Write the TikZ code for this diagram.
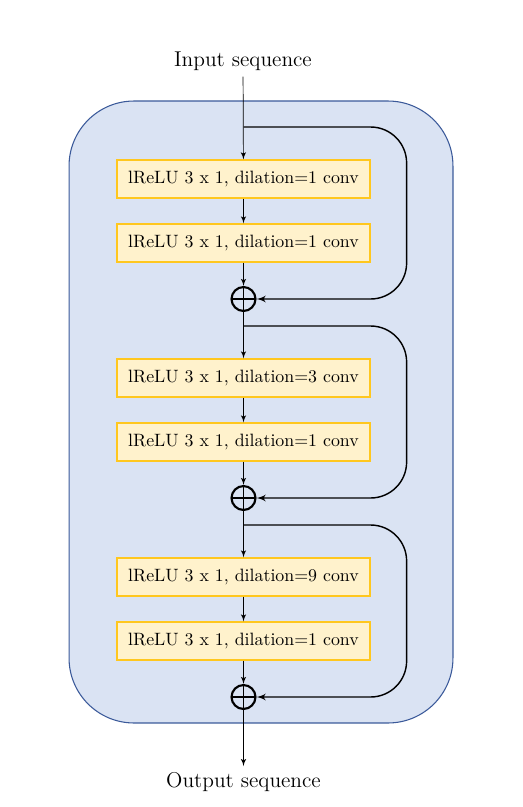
\documentclass[tikz,border=0pt]{standalone}
\usepackage{amsmath,amssymb}
\usepackage{tikz}
\usetikzlibrary{positioning}
\usetikzlibrary{arrows,shapes}
\definecolor{resfill}{HTML}{DAE3F3}
\definecolor{resdraw}{HTML}{3B5A9A}
\definecolor{convfill}{HTML}{FFF2CC}
\definecolor{convdraw}{HTML}{FFC71E}
\tikzstyle{resblock} = [rectangle,rounded corners=36.4pt,draw=resdraw,fill=resfill,semithick,minimum width=215pt,minimum height=348.3pt]
\tikzstyle{conv} = [rectangle,draw=convdraw,fill=convfill,semithick,minimum width=141.7pt,minimum height=21.3pt,align=center]
\tikzstyle{sum} = [circle,draw,line width=1.2pt,minimum size=13.4pt,inner sep=0pt,
  path picture={\draw[-,line width=0.9pt] (path picture bounding box.north) -- (path picture bounding box.south)
  (path picture bounding box.west) -- (path picture bounding box.east);}]
\tikzstyle{line} = [draw, -latex']
\tikzstyle{skip} = [draw, -latex', line width=0.8pt, rounded corners=20.2pt]

\begin{document}
\begin{tikzpicture}[x=0.56pt,y=-0.56pt,node distance=35.84pt]
            \useasboundingbox (0,0) rectangle (523,807);
            \path node[resblock] (res) at (261,412) {};
            \path node[font=\large] (in) at (243,61) {Input sequence};
            % first block
            \path[line] node[conv] (c1) at (243.5,179) {lReLU 3 x 1, dilation=1 conv}
            (in) edge (c1);
            \path[line] node[conv,below of=c1] (c2) {lReLU 3 x 1, dilation=1 conv}
            (c1) edge (c2);
            \path[line] node[sum,below of=c2,node distance=31.36pt] (s1) {}
            (c2) edge (s1);
            \coordinate[above of=c1,node distance=29.12pt] (b1);
            \coordinate[right=20.2pt of c1.east] (r1);
            \path[skip] (b1) -- (b1 -| r1) -- (s1 -| r1) -- (s1);
            % second block
            \path[line] node[conv,below of=s1,node distance=44.24pt] (c3) {lReLU 3 x 1, dilation=3 conv}
            (s1) edge (c3);
            \path[line] node[conv,below of=c3] (c4) {lReLU 3 x 1, dilation=1 conv}
            (c3) edge (c4);
            \path[line] node[sum,below of=c4,node distance=31.36pt] (s2) {}
            (c4) edge (s2);
            \coordinate[above of=c3,node distance=29.12pt] (b2);
            \coordinate[right=20.2pt of c3.east] (r2);
            \path[skip] (b2) -- (b2 -| r2) -- (s2 -| r2) -- (s2);
            % third block
            \path[line] node[conv,below of=s2,node distance=44.24pt] (c5) {lReLU 3 x 1, dilation=9 conv}
            (s2) edge (c5);
            \path[line] node[conv,below of=c5] (c6) {lReLU 3 x 1, dilation=1 conv}
            (c5) edge (c6);
            \path[line] node[sum,below of=c6,node distance=31.36pt] (s3) {}
            (c6) edge (s3);
            \coordinate[above of=c5,node distance=29.12pt] (b3);
            \coordinate[right=20.2pt of c5.east] (r3);
            \path[skip] (b3) -- (b3 -| r3) -- (s3 -| r3) -- (s3);
            \path[line] node[font=\large,below of=s3,node distance=47.6pt] (out) {Output sequence}
            (s3) edge (out);
        \end{tikzpicture}
\end{document}
